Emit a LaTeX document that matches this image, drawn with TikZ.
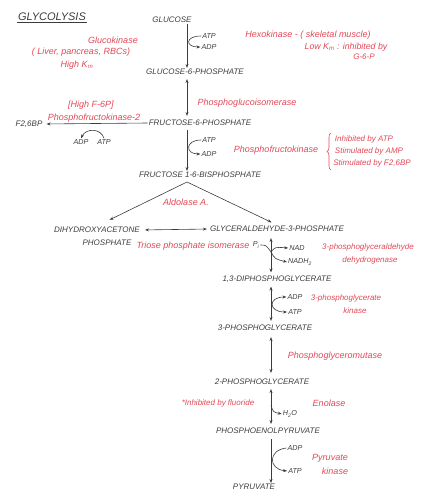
\documentclass[tikz,border=0pt]{standalone}
\usepackage{fontspec}
\setmainfont{Liberation Sans}
\usetikzlibrary{positioning, calc, arrows.meta, decorations.pathreplacing}
\definecolor{ink}{RGB}{60,60,60}
\definecolor{penred}{RGB}{226,72,86}

\begin{document}
\begin{tikzpicture}[x=1pt, y=-1pt, >={Stealth[length=4pt,width=3pt]},
  met/.style={text=ink, font=\fontsize{8}{9}\selectfont\itshape, inner sep=1pt},
  cof/.style={text=ink, font=\fontsize{7.2}{8}\selectfont\itshape, inner sep=1pt},
  enz/.style={text=penred, font=\fontsize{9}{10}\selectfont\itshape, inner sep=1pt},
  note/.style={text=penred, font=\fontsize{8}{9}\selectfont\itshape, inner sep=1pt},
  lnk/.style={draw=ink, line width=0.6pt}]
\useasboundingbox (0,0) rectangle (422,500);

% main line
\coordinate (AX1) at (187,0);
\coordinate (AX2) at (271,0);

\node[met, font=\fontsize{11}{12}\selectfont\itshape] (TTL) at (52,17) {GLYCOLYSIS};
\draw[lnk] (TTL.south west) -- (TTL.south east);

\node[met] (GLC) at (172,20) {GLUCOSE};
\node[cof] (ATP1) at (209,36) {ATP};
\node[cof] (ADP1) at (209,47) {ADP};
\node[met] (G6P) at (195,72) {GLUCOSE-6-PHOSPHATE};
\node[enz] (GK1) at (113,40) {Glucokinase};
\node[enz] (GK2) at (81,52) {( Liver, pancreas, RBCs)};
\node[enz] (GK3) at (77,65) {High K\textsubscript{m}};
\node[enz] (HK1) at (308,35) {Hexokinase - ( skeletal muscle)};
\node[note, font=\fontsize{8.8}{10}\selectfont\itshape] (HK2) at (346,47) {Low K\textsubscript{m} : inhibited by};
\node[note] (HK3) at (364,57) {G-6-P};

\node[enz] (PGI) at (247,103) {Phosphoglucoisomerase};
\node[met] (F6P) at (200,123) {FRUCTOSE-6-PHOSPHATE};
\node[met] (F26) at (29,124) {F2,6BP};
\node[enz] (PFK2) at (94,118) {Phosphofructokinase-2};
\node[enz] (HF6P) at (91,105) {[High F-6P]};
\node[cof] (ADP2) at (81,142) {ADP};
\node[cof] (ATP2) at (104,142) {ATP};

\node[cof] (ATP3) at (209,140) {ATP};
\node[cof] (ADP3) at (209,154) {ADP};
\node[enz] (PFK1) at (276,150) {Phosphofructokinase};
\node[note] (INH) at (364,139) {Inhibited by ATP};
\node[note] (STA) at (369,151) {Stimulated by AMP};
\node[note] (STF) at (372,163) {Stimulated by F2,6BP};
\coordinate (BR1) at (331,170);
\coordinate (BR2) at (331,133);
\node[met] (F16) at (200,175) {FRUCTOSE 1-6-BISPHOSPHATE};
\coordinate (SPL) at (187,182);
\node[enz] (ALD) at (186,202) {Aldolase A.};

\node[met] (DHAP1) at (97,230) {DIHYDROXYACETONE};
\node[met] (DHAP2) at (107,243) {PHOSPHATE};
\node[met] (G3P) at (277,229) {GLYCERALDEHYDE-3-PHOSPHATE};
\node[enz] (TPI) at (193,246) {Triose phosphate isomerase};
\node[cof] (PI) at (256,245) {P\textsubscript{i}};
\coordinate (J1) at (271,252);
\node[cof] (NAD) at (297,248) {NAD};
\node[cof] (NADH) at (300,262) {NADH\textsubscript{2}};
\node[note] (GD1) at (368,247) {3-phosphoglyceraldehyde};
\node[note] (GD2) at (370,260) {dehydrogenase};

\node[met] (DPG) at (277,279) {1,3-DIPHOSPHOGLYCERATE};
\node[cof] (ADP4) at (295,297) {ADP};
\node[cof] (ATP4) at (295,312) {ATP};
\node[note] (PGK1) at (346,298) {3-phosphoglycerate};
\node[note] (PGK2) at (355,311) {kinase};
\node[met] (PG3) at (265,328) {3-PHOSPHOGLYCERATE};
\node[enz] (PGM) at (335,356) {Phosphoglyceromutase};
\node[met] (PG2) at (262,382) {2-PHOSPHOGLYCERATE};
\node[note] (FLU) at (218,403) {*Inhibited by fluoride};
\node[enz] (ENO) at (329,403) {Enolase};
\coordinate (J2) at (271,405);
\node[cof] (H2O) at (290,414) {H\textsubscript{2}O};
\node[met] (PEP) at (268,431) {PHOSPHOENOLPYRUVATE};
\node[cof] (ADP5) at (295,448) {ADP};
\node[cof] (ATP5) at (295,471) {ATP};
\node[enz] (PK1) at (330,458) {Pyruvate};
\node[enz] (PK2) at (335,471) {kinase};
\node[met] (PYR) at (254,487) {PYRUVATE};

% steps
\draw[lnk, ->] (GLC.south -| AX1) -- (G6P.north -| AX1);
\draw[lnk, ->] (ATP1.west) .. controls (185,36) and (185,47) .. (ADP1.west);
\draw[lnk, <->, shorten <=3pt, shorten >=3pt] (G6P.south -| AX1) -- (F6P.north -| AX1);
\draw[lnk, ->, shorten >=3pt] (F6P.west) -- (F26.east);
\draw[lnk, ->] (ATP2.north) .. controls (101,128) and (86,128) .. (ADP2.north);
\draw[lnk, ->, shorten <=3pt] (F6P.south -| AX1) -- (F16.north -| AX1);
\draw[lnk, ->] (ATP3.west) .. controls (185,140) and (185,154) .. (ADP3.west);
\draw[penred, line width=0.6pt, decorate, decoration={brace, amplitude=4pt}] (BR1) -- (BR2);
\draw[lnk, ->, shorten >=14pt] (SPL) -- (DHAP1.north);
\draw[lnk, ->, shorten >=6pt] (SPL) -- (G3P.north);
\draw[lnk, <->, shorten <=4pt, shorten >=2pt] (DHAP1.east) -- (G3P.west);
\draw[lnk, <->, shorten <=5pt, shorten >=2pt] (G3P.south -| AX2) -- (DPG.north -| AX2);
\draw[lnk] (PI.east) .. controls (266,245) .. (J1);
\draw[lnk, ->] (J1) .. controls (275,247) .. (NAD.west);
\draw[lnk, ->] (J1) .. controls (275,259) .. (NADH.west);
\draw[lnk, <->, shorten <=3pt, shorten >=3pt] (DPG.south -| AX2) -- (PG3.north -| AX2);
\draw[lnk, <->] (ADP4.west) .. controls (268,297) and (268,312) .. (ATP4.west);
\draw[lnk, <->, shorten <=5pt, shorten >=5pt] (PG3.south -| AX2) -- (PG2.north -| AX2);
\draw[lnk, <->, shorten <=3pt, shorten >=3pt] (PG2.south -| AX2) -- (PEP.north -| AX2);
\draw[lnk, ->] (J2) .. controls (273,412) .. (H2O.west);
\draw[lnk, ->, shorten <=4pt] (PEP.south -| AX2) -- (PYR.north -| AX2);
\draw[lnk, ->] (ADP5.west) .. controls (268,450) and (268,469) .. (ATP5.west);
\end{tikzpicture}
\end{document}
